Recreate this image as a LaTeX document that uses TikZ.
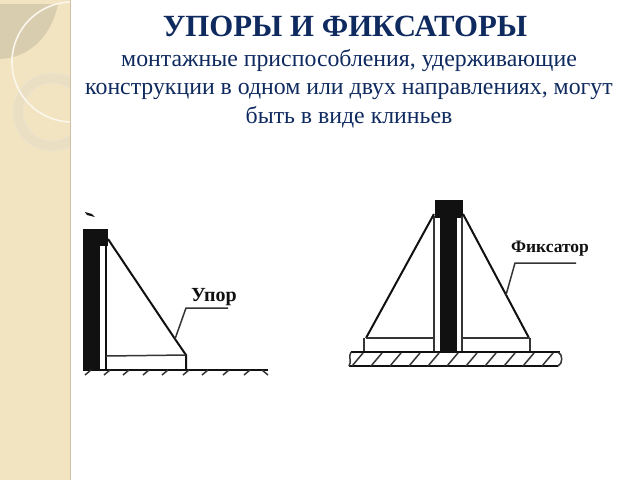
\documentclass[tikz,border=0pt]{standalone}
\usepackage{fontspec}
\setmainfont{Liberation Serif}
\definecolor{panel}{HTML}{F2E4C0}
\definecolor{leaf}{HTML}{D9CDB0}
\definecolor{edgeb}{HTML}{CDBFA0}
\definecolor{ringc}{HTML}{EBDFC3}
\definecolor{navy}{HTML}{0F2A5F}
\definecolor{ink}{HTML}{111111}
\tikzset{
  ln/.style={draw=ink,line width=2pt},
  thin ln/.style={draw=ink!85,line width=1.5pt},
  title/.style={font=\bfseries\fontsize{30.8}{34}\selectfont,text=navy,inner sep=0},
  body/.style={font=\fontsize{23.8}{28.6}\selectfont,text=navy,inner sep=0,align=center},
  lab/.style={font=\bfseries\fontsize{17.5}{20}\selectfont,text=ink,inner sep=0},
  labb/.style={font=\bfseries\fontsize{20}{22}\selectfont,text=ink,inner sep=0}
}
\begin{document}
\begin{tikzpicture}[x=1pt,y=-1pt]
\useasboundingbox (0,0) rectangle (640,480);
\fill[white] (0,0) rectangle (640,480);
% side panel
\fill[panel] (0,0) rectangle (70,480);
\begin{scope}
\clip (0,0) rectangle (70,480);
\fill[leaf] (0,4) -- (58,4) .. controls (52,35) and (30,58) .. (0,59) -- cycle;
\draw[even odd rule,fill=ringc,draw=edgeb!40] (52,112) circle[radius=39] (52,112) circle[radius=29];
\draw[white!70!panel,line width=1.6pt] (72,62) circle[radius=60];
\end{scope}
\draw[edgeb,line width=1.2pt] (70.5,0) -- (70.5,480);
% text
\node[title,anchor=center] (t) at (345,26) {УПОРЫ И ФИКСАТОРЫ};
\node[body,anchor=north] (b) at (349,49) {монтажные приспособления, удерживающие\\конструкции в одном или двух направлениях, могут\\быть в виде клиньев};
% left figure
\fill[ink] (83,229) rectangle (108,246);
\fill[ink] (83,229) rectangle (100,369);
\fill[ink] (85,212) -- (92,214) -- (95,217) -- (87,215) -- cycle;
\draw[ln] (105.5,245) -- (105.5,369);
\draw[ln] (108,239) coordinate (lt) -- (175,339) coordinate (la) -- (186,355) coordinate (lb) -- (186,369) coordinate (lc);
\draw[thin ln] (106,356) -- (lb);
\draw[ln] (83,369.5) coordinate (g1) -- (268,369.5) coordinate (g2);
\foreach \x in {91,110,129,149,168,189,208,229,250}
  \draw[thin ln] (\x,370) -- ++(-6,5);
\draw[thin ln] (262,370) -- (268,375);
\draw[thin ln] (la) -- (186,308) coordinate (lk) -- (228,308) coordinate (le);
\node[labb] (upor) at (214,297) {Упор};
% right figure
\fill[ink] (435,200) rectangle (463,218);
\fill[ink] (440,200) rectangle (457,352);
\draw[thin ln] (434,216) -- (434,352);
\draw[thin ln] (462,216) -- (462,352);
\draw[ln] (434,214) coordinate (rl) -- (366,338) coordinate (rb);
\draw[ln] (463,214) coordinate (rr) -- (529,338) coordinate (rc);
\draw[thin ln] (366,338) -- (434,338) (462,338) -- (529,338);
\draw[thin ln] (rb) ++(-2,0) -- ++(0,14);
\draw[thin ln] (rc) ++(1,0) -- ++(0,14);
\draw[ln] (351,352) -- (560,352);
\draw[ln] (349,366) -- (558,366);
\draw[thin ln] (351,352) .. controls (348,356) and (352,362) .. (349,366);
\draw[thin ln] (558,352) .. controls (563,354) and (563,364) .. (558,366);
\foreach \x in {363,382,401,420,439,458,477,496,515,534,553}
  \draw[thin ln] (\x,353) -- ++(-11,13);
\draw[thin ln] (506,295) coordinate (ra) -- (515,263) coordinate (rk) -- (576,263) coordinate (re);
\node[lab] (fix) at (550,249) {Фиксатор};
\end{tikzpicture}
\end{document}
